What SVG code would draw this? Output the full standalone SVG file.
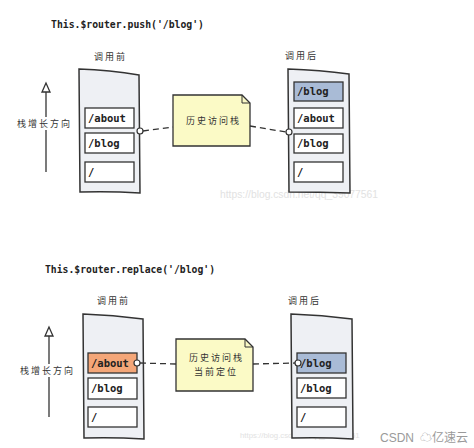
<svg xmlns="http://www.w3.org/2000/svg" width="474" height="448" viewBox="0 0 474 448">
<style>
.title{font-family:"DejaVu Sans Mono","Liberation Mono",monospace;font-weight:bold;font-size:11px;fill:#222}
.cn{font-family:"Noto Sans CJK SC",sans-serif;font-size:9px;fill:#333;letter-spacing:2px}
.stack{fill:#eef0f4;stroke:#333;stroke-width:1.5}
.box{fill:#fff;stroke:#333;stroke-width:1.3}
.hl{fill:#a9bbd6;stroke:#333;stroke-width:1.3}
.or{fill:#f4a678;stroke:#333;stroke-width:1.3}
.bt{font-family:"DejaVu Sans Mono","Liberation Mono",monospace;font-weight:bold;font-size:10.5px;fill:#222}
.note{fill:#fbfac6;stroke:#333;stroke-width:1.3}
.dash{fill:none;stroke:#333;stroke-width:1.3;stroke-dasharray:6 4}
.dot{fill:#fff;stroke:#333;stroke-width:1.2}
.axis{stroke:#333;stroke-width:1.3;fill:none}
.head{fill:#fff;stroke:#333;stroke-width:1.3}
.wm{font-family:"Liberation Sans",sans-serif;font-size:10px;fill:#e2e2e2}
.wm2{font-family:"Liberation Sans","Noto Sans CJK SC",sans-serif;font-size:12px;fill:#9a9a9a}
</style>
<rect width="474" height="448" fill="#fff"/>
<text class="wm" x="220" y="198" textLength="158" lengthAdjust="spacingAndGlyphs">https://blog.csdn.net/qq_39077561</text>
<text class="wm" x="240" y="438" style="font-size:7.8px">https://blog.csdn.net/qq_39077561</text>

<g id="push-section">
<text class="title" x="51" y="28" textLength="153" lengthAdjust="spacingAndGlyphs">This.$router.push('/blog')</text>
</g>

<g id="push-axis">
<line class="axis" x1="46" y1="172" x2="46" y2="92"/>
<polygon class="head" points="46,83 42,92 50,92"/>
<rect x="16" y="117" width="60" height="13" fill="#fff"/>
<text class="cn" x="17" y="127">栈增长方向</text>
</g>

<g id="push-before">
<text class="cn" x="94" y="60">调用前</text>
<path class="stack" d="M79,69 Q110,70 139,75 L140,193 Q110,191 80,192 Z"/>
<rect class="box" x="85" y="108" width="49" height="20"/>
<text class="bt" x="88" y="122">/about</text>
<rect class="box" x="85" y="133" width="49" height="20"/>
<text class="bt" x="88" y="147">/blog</text>
<rect class="box" x="85" y="162" width="49" height="20"/>
<text class="bt" x="88" y="176">/</text>
</g>

<g id="push-note">
<path class="note" d="M173,95 L242,95 L250,103 L250,146 L173,146 Z"/>
<path d="M242,95 L242,103 L250,103" fill="none" stroke="#333" stroke-width="1"/>
<text class="cn" x="186" y="124">历史访问栈</text>
</g>

<g id="push-after">
<text class="cn" x="285" y="59">调用后</text>
<path class="stack" d="M288,69 Q320,70 349,74 L350,193 Q320,192 289,192 Z"/>
<rect class="hl" x="294" y="82" width="49" height="19"/>
<text class="bt" x="297" y="95">/blog</text>
<rect class="box" x="294" y="108" width="49" height="20"/>
<text class="bt" x="297" y="122">/about</text>
<rect class="box" x="294" y="134" width="49" height="19"/>
<text class="bt" x="297" y="147">/blog</text>
<rect class="box" x="294" y="162" width="49" height="20"/>
<text class="bt" x="297" y="176">/</text>
</g>

<g id="replace-section">
<text class="title" x="45" y="273" textLength="170" lengthAdjust="spacingAndGlyphs">This.$router.replace('/blog')</text>
</g>

<g id="replace-axis">
<line class="axis" x1="49" y1="417" x2="49" y2="336"/>
<polygon class="head" points="49,327 45,336 53,336"/>
<rect x="19" y="364" width="60" height="13" fill="#fff"/>
<text class="cn" x="20" y="374">栈增长方向</text>
</g>

<g id="replace-before">
<text class="cn" x="97" y="304">调用前</text>
<path class="stack" d="M83,314 Q113,315 143,319 L144,439 Q113,437 84,438 Z"/>
<rect class="or" x="88" y="353" width="49" height="20"/>
<text class="bt" x="91" y="367">/about</text>
<rect class="box" x="88" y="378" width="49" height="21"/>
<text class="bt" x="91" y="392">/blog</text>
<rect class="box" x="88" y="407" width="49" height="20"/>
<text class="bt" x="91" y="421">/</text>
</g>

<g id="replace-note">
<path class="note" d="M176,339 L245,339 L253,347 L253,391 L176,391 Z"/>
<path d="M245,339 L245,347 L253,347" fill="none" stroke="#333" stroke-width="1"/>
<text class="cn" x="189" y="361">历史访问栈</text>
<text class="cn" x="194" y="375">当前定位</text>
</g>

<g id="replace-after">
<text class="cn" x="288" y="304">调用后</text>
<path class="stack" d="M291,314 Q322,315 352,319 L353,439 Q322,437 292,438 Z"/>
<rect class="hl" x="297" y="353" width="49" height="20"/>
<text class="bt" x="300" y="367">/blog</text>
<rect class="box" x="297" y="378" width="49" height="20"/>
<text class="bt" x="300" y="392">/blog</text>
<rect class="box" x="297" y="407" width="49" height="20"/>
<text class="bt" x="300" y="421">/</text>
</g>

<g id="connectors">
<path class="dash" d="M143,131 L173,127"/>
<circle class="dot" cx="140" cy="131" r="3"/>
<path class="dash" d="M250,126 L286,132"/>
<circle class="dot" cx="289" cy="132" r="3"/>
<path class="dash" d="M140,363 L176,364"/>
<circle class="dot" cx="137" cy="363" r="3"/>
<path class="dash" d="M253,364 L295,363"/>
<circle class="dot" cx="298" cy="363" r="3"/>
</g>

<text class="wm2" x="380" y="442">CSDN</text>
<text class="wm2" x="420" y="442">☁亿速云</text>
</svg>
